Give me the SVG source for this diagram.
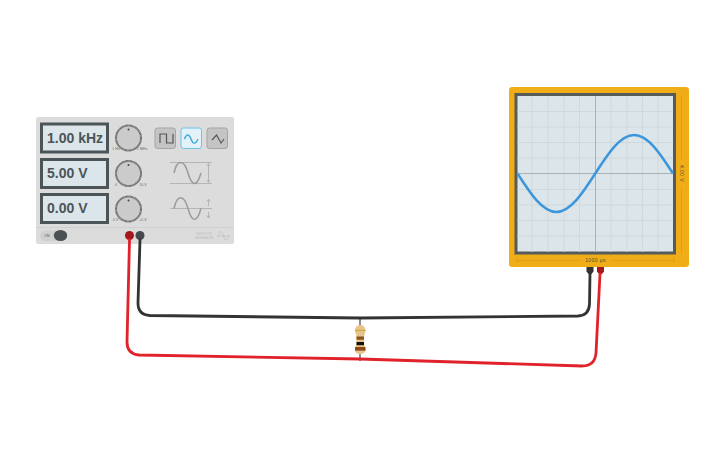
<svg xmlns="http://www.w3.org/2000/svg" width="725" height="453" viewBox="0 0 725 453">
<style>
text{font-family:"Liberation Sans",Arial,sans-serif}
.disp{fill:#dce6ea;stroke:#4b5558;stroke-width:3}
.val{font-size:14px;font-weight:700;fill:#4b5558}
.knob{fill:#cbcbcb;stroke:#666;stroke-width:2;stroke-dasharray:1 .3}
.dot{fill:#444}
.tiny{font-size:3.6px;fill:#666;text-anchor:middle}
.btn{fill:#c4c4c4;stroke:#a5a5a5;stroke-width:1}
.ico{fill:none;stroke:#555;stroke-width:1.2}
.wv{fill:none;stroke:#9a9a9a;stroke-width:1.5}
.ln{fill:none;stroke:#b5b5b5;stroke-width:1}
.grid{stroke:#cfd9dc;stroke-width:1}
.axis{stroke:#aab2b2;stroke-width:1}
.wire{fill:none;stroke-width:2.800;stroke-linejoin:round;stroke-linecap:round}
.hint{stroke:#d29a14;stroke-width:.7}
</style>
<rect width="725" height="453" fill="#fff"/>
<g id="generator">
<rect x="36" y="117" width="198" height="127" rx="2" fill="#dcdcdc"/>
<line x1="36" y1="227.500" x2="234" y2="227.500" stroke="#d0d0d0"/>
<rect class="disp" x="41.500" y="124" width="66" height="28"/>
<rect class="disp" x="41.500" y="159.500" width="66" height="28"/>
<rect class="disp" x="41.500" y="194.500" width="66" height="28"/>
<text class="val" x="47" y="142.500">1.00 kHz</text>
<text class="val" x="47" y="178">5.00 V</text>
<text class="val" x="47" y="213">0.00 V</text>
<circle class="knob" cx="128.500" cy="138" r="12.500"/>
<circle class="knob" cx="128.500" cy="173.500" r="12.500"/>
<circle class="knob" cx="128.500" cy="209" r="12.500"/>
<circle class="dot" cx="128.500" cy="129.500" r="1"/>
<circle class="dot" cx="128.500" cy="165" r="1"/>
<circle class="dot" cx="128.500" cy="200.500" r="1"/>
<text class="tiny" x="116" y="150">1 Hz</text>
<text class="tiny" x="142" y="150">1 MHz</text>
<text class="tiny" x="116" y="186">0</text>
<text class="tiny" x="143" y="186">10 V</text>
<text class="tiny" x="115" y="221">-5 V</text>
<text class="tiny" x="143" y="221">+5 V</text>
<rect class="btn" x="155" y="128" width="20.500" height="20.500" rx="2.500"/>
<rect x="181" y="128" width="20.500" height="20.500" rx="2.500" fill="#e3f1f8" stroke="#6cc4ea" stroke-width="1"/>
<rect class="btn" x="207" y="128" width="20.500" height="20.500" rx="2.500"/>
<path class="ico" d="M160 143V134H166.500V143H173V134"/>
<path d="M184.500 139C186.500 133.500 189 133.500 191 139S195.500 144.500 198 139" fill="none" stroke="#2fa8df" stroke-width="1.300"/>
<path class="ico" d="M212 140L216.500 135L221 143L224 139"/>
<g id="amp-icon">
<path class="ln" d="M170 162.500H212M170 183.500H212"/>
<path class="wv" d="M174 173C177 159 184 159 188 173S197 187 201 173"/>
<path class="ln" d="M208.500 163.500V182.500M206.800 166L208.500 163.500L210.200 166M206.800 180L208.500 182.500L210.200 180"/>
</g>
<g id="offset-icon">
<path class="ln" d="M170 208.500H212"/>
<path class="wv" d="M174 208.500C177 194 184 194 188 208.500S197 223 201 208.500"/>
<path class="ln" d="M208.500 199V206M208.500 212V218M206.800 201.500L208.500 199L210.200 201.500M206.800 215.500L208.500 218L210.200 215.500"/>
</g>
<rect x="40" y="230.500" width="27" height="10.500" rx="5.200" fill="#cfcfcf"/>
<ellipse cx="60.500" cy="235.500" rx="6.700" ry="5.500" fill="#4a5154"/>
<text x="47" y="237" font-size="3.600" fill="#555" text-anchor="middle">ON</text>
<text x="204" y="235" font-size="3" fill="#bbb" text-anchor="middle">FUNCTION</text>
<text x="204" y="238.500" font-size="3" fill="#bbb" text-anchor="middle">GENERATOR</text>
<path d="M217 236H230M218 236C220 230 222 230 223.500 236S227 241 229 236" fill="none" stroke="#c2c2c2" stroke-width=".8"/>
<circle cx="129.500" cy="235.500" r="4.500" fill="#a5161d"/>
<circle cx="140" cy="235.500" r="4.500" fill="#454a4c"/>
</g>
<g id="oscilloscope">
<rect x="509" y="87" width="180" height="180" rx="3" fill="#f0ad17"/>
<rect x="516" y="94.500" width="158.500" height="158.500" fill="#dce6ea" stroke="#555a5a" stroke-width="3"/>
<path class="grid" d="M532 96V252M548 96V252M564 96V252M579.500 96V252M611 96V252M627 96V252M642.500 96V252M658 96V252M517.500 111.500H673M517.500 127H673M517.500 142.500H673M517.500 158H673M517.500 189.500H673M517.500 205H673M517.500 220.500H673M517.500 236H673"/>
<path class="axis" d="M595.500 96V252M517.500 173.500H673"/>
<path d="M517.500 173.500C530.180 193.220 542.310 212 556.375 212C570.440 212 582.570 193.220 595.250 173.500C607.930 153.780 620.060 135 634.125 135C648.190 135 660.320 153.780 673 173.500" fill="none" stroke="#3c96dc" stroke-width="2.500"/>
<path class="hint" d="M517 260.500H579M613 260.500H674M517 258.500V262.500M674 258.500V262.500M681.500 95V159M681.500 188V253"/>
<text x="595.500" y="262" font-size="5" letter-spacing=".4" fill="#4a4a3a" text-anchor="middle">1000 µs</text>
<text x="0" y="0" font-size="5" letter-spacing=".4" fill="#4a4a3a" text-anchor="middle" transform="translate(680,173.500) rotate(90)">4.00 V</text>
<path d="M586.500 267H593.500V271.500L591.500 274H588.500L586.500 271.500Z" fill="#333"/>
<path d="M597 267H604V271.500L602 274H599L597 271.500Z" fill="#a5161d"/>
</g>
<g id="resistor">
<line x1="360" y1="318" x2="360" y2="361" stroke="#8f8f8f" stroke-width="2"/>
<path d="M356.500 326.500C358 324.500 362.500 324.500 364 326.500C365.500 328.500 366 331 365 333L364 336V344L365 347C366 350 365.500 352 364 353C361.500 354.500 359 354.500 356.500 353C355 352 354.500 350 355.500 347L356.500 344V336L355.500 333C354.500 331 355 328.500 356.500 326.500Z" fill="#e8c48c"/>
<rect x="355" y="329.800" width="10.500" height="1.200" fill="#c9b23a"/>
<rect x="356.500" y="336.500" width="7.500" height="3.200" fill="#8a5320"/>
<rect x="356.500" y="342" width="7.500" height="3.200" fill="#111"/>
<rect x="355" y="347" width="10.500" height="3.600" fill="#8a4a1c"/>
</g>
<g id="connectors">
<path class="wire" stroke="#333" d="M140 240L138 303Q138 315 150 315.500L360 318L578 316Q589 315.500 589.500 304L590 274"/>
<path class="wire" stroke="#e0222a" d="M129.500 240L127 342Q127 354 139 355L360 359L582 366Q595 366 596 353L600 274"/>
</g>
</svg>
